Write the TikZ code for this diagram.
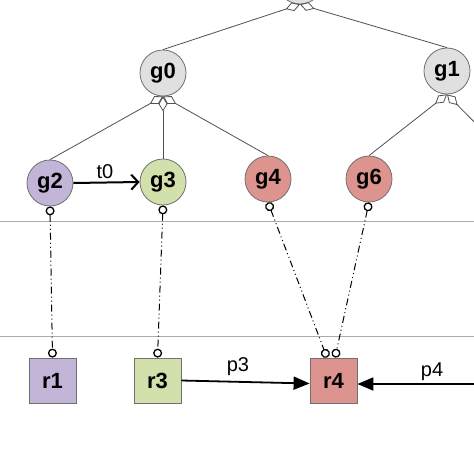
\documentclass[tikz,border=0pt]{standalone}
\usepackage{fontspec}
\setmainfont{Liberation Sans}
\usetikzlibrary{arrows.meta}
\definecolor{cgray}{HTML}{E0E0E0}
\definecolor{cpurple}{HTML}{C3B5D8}
\definecolor{cgreen}{HTML}{D2E0AC}
\definecolor{cred}{HTML}{DD948E}
\definecolor{cstroke}{HTML}{707070}
\definecolor{ctree}{HTML}{505050}
\definecolor{csep}{HTML}{ABABAB}
\tikzset{
  gnode/.style={circle, draw=cstroke, line width=0.8pt, minimum size=46pt, inner sep=0pt,
    font=\fontsize{22}{25}\selectfont\bfseries},
  rnode/.style={rectangle, draw=cstroke, line width=0.8pt, minimum width=47pt, minimum height=45pt,
    inner sep=0pt, font=\fontsize{22}{25}\selectfont\bfseries},
  treeedge/.style={draw=ctree, line width=0.8pt, {Diamond[open,length=15pt,width=9pt]}-},
  mapedge/.style={draw=black, line width=1pt,
    dash pattern=on 7pt off 3pt on 1pt off 3pt on 1pt off 3pt,
    {Circle[open,length=9pt,width=9pt,line width=1.3pt]}-{Circle[open,length=9pt,width=9pt,line width=1.3pt]}},
  sepline/.style={draw=csep, line width=1pt},
  tarrow/.style={draw=black, line width=2pt, -{Straight Barb[length=7pt,width=15pt]}},
  parrow/.style={draw=black, line width=1.8pt, -{Triangle[length=16pt,width=13pt]}},
  elabel/.style={font=\fontsize{20}{23}\selectfont, inner sep=0pt}
}
\begin{document}
\begin{tikzpicture}[x=1pt,y=-1pt]
\useasboundingbox (0,0) rectangle (474,474);
\clip (0,0) rectangle (474,474);
\fill[white] (0,0) rectangle (474,474);

% separators
\coordinate (s1l) at (0,221);
\coordinate (s1r) at (474,221);
\coordinate (s2l) at (0,336);
\coordinate (s2r) at (474,336);
\draw[sepline] (s1l) -- (s1r);
\draw[sepline] (s2l) -- (s2r);

% nodes
\node[gnode, fill=cgray] (top) at (300,-19) {};
\node[gnode, fill=cgray] (g0) at (163,73) {g0};
\node[gnode, fill=cgray] (g1) at (447,71) {g1};
\coordinate (g1r) at (560,209);
\node[gnode, fill=cpurple] (g2) at (50,183) {g2};
\node[gnode, fill=cgreen] (g3) at (163,182) {g3};
\node[gnode, fill=cred] (g4) at (268,179) {g4};
\node[gnode, fill=cred] (g6) at (369,179) {g6};

\node[rnode, fill=cpurple] (r1) at (52.5,380.5) {r1};
\node[rnode, fill=cgreen] (r3) at (157.5,380.5) {r3};
\node[rnode, fill=cred] (r4) at (333.5,380.5) {r4};
\coordinate (p4end) at (480,384);

% tree edges
\draw[treeedge] (top.south) -- (g0.north);
\draw[treeedge] (top.south) -- (g1.north);
\draw[treeedge] (g0.south) -- (g2.north);
\draw[treeedge] (g0.south) -- (g3.north);
\draw[treeedge] (g0.south) -- (g4.north);
\draw[treeedge] (g1.south) -- (g6.north);
\draw[treeedge] (g1.south) -- (g1r);

% mapping edges
\draw[mapedge] (g2.south) -- (r1.north);
\draw[mapedge] (g3.south) -- (r3.north);
\draw[mapedge] (g4.south) -- ([xshift=-6.5pt]r4.north);
\draw[mapedge] (g6.south) -- ([xshift=1.5pt]r4.north);

% arrows
\draw[tarrow] (g2.east) -- (g3.west);
\node[elabel] (t0) at (105,172) {t0};
\draw[parrow] (r3.east) -- ([yshift=-3pt]r4.west);
\node[elabel] (p3) at (238,367) {p3};
\draw[parrow] (p4end) -- ([yshift=-3.5pt]r4.east);
\node[elabel] (p4) at (432,372) {p4};
\end{tikzpicture}
\end{document}
